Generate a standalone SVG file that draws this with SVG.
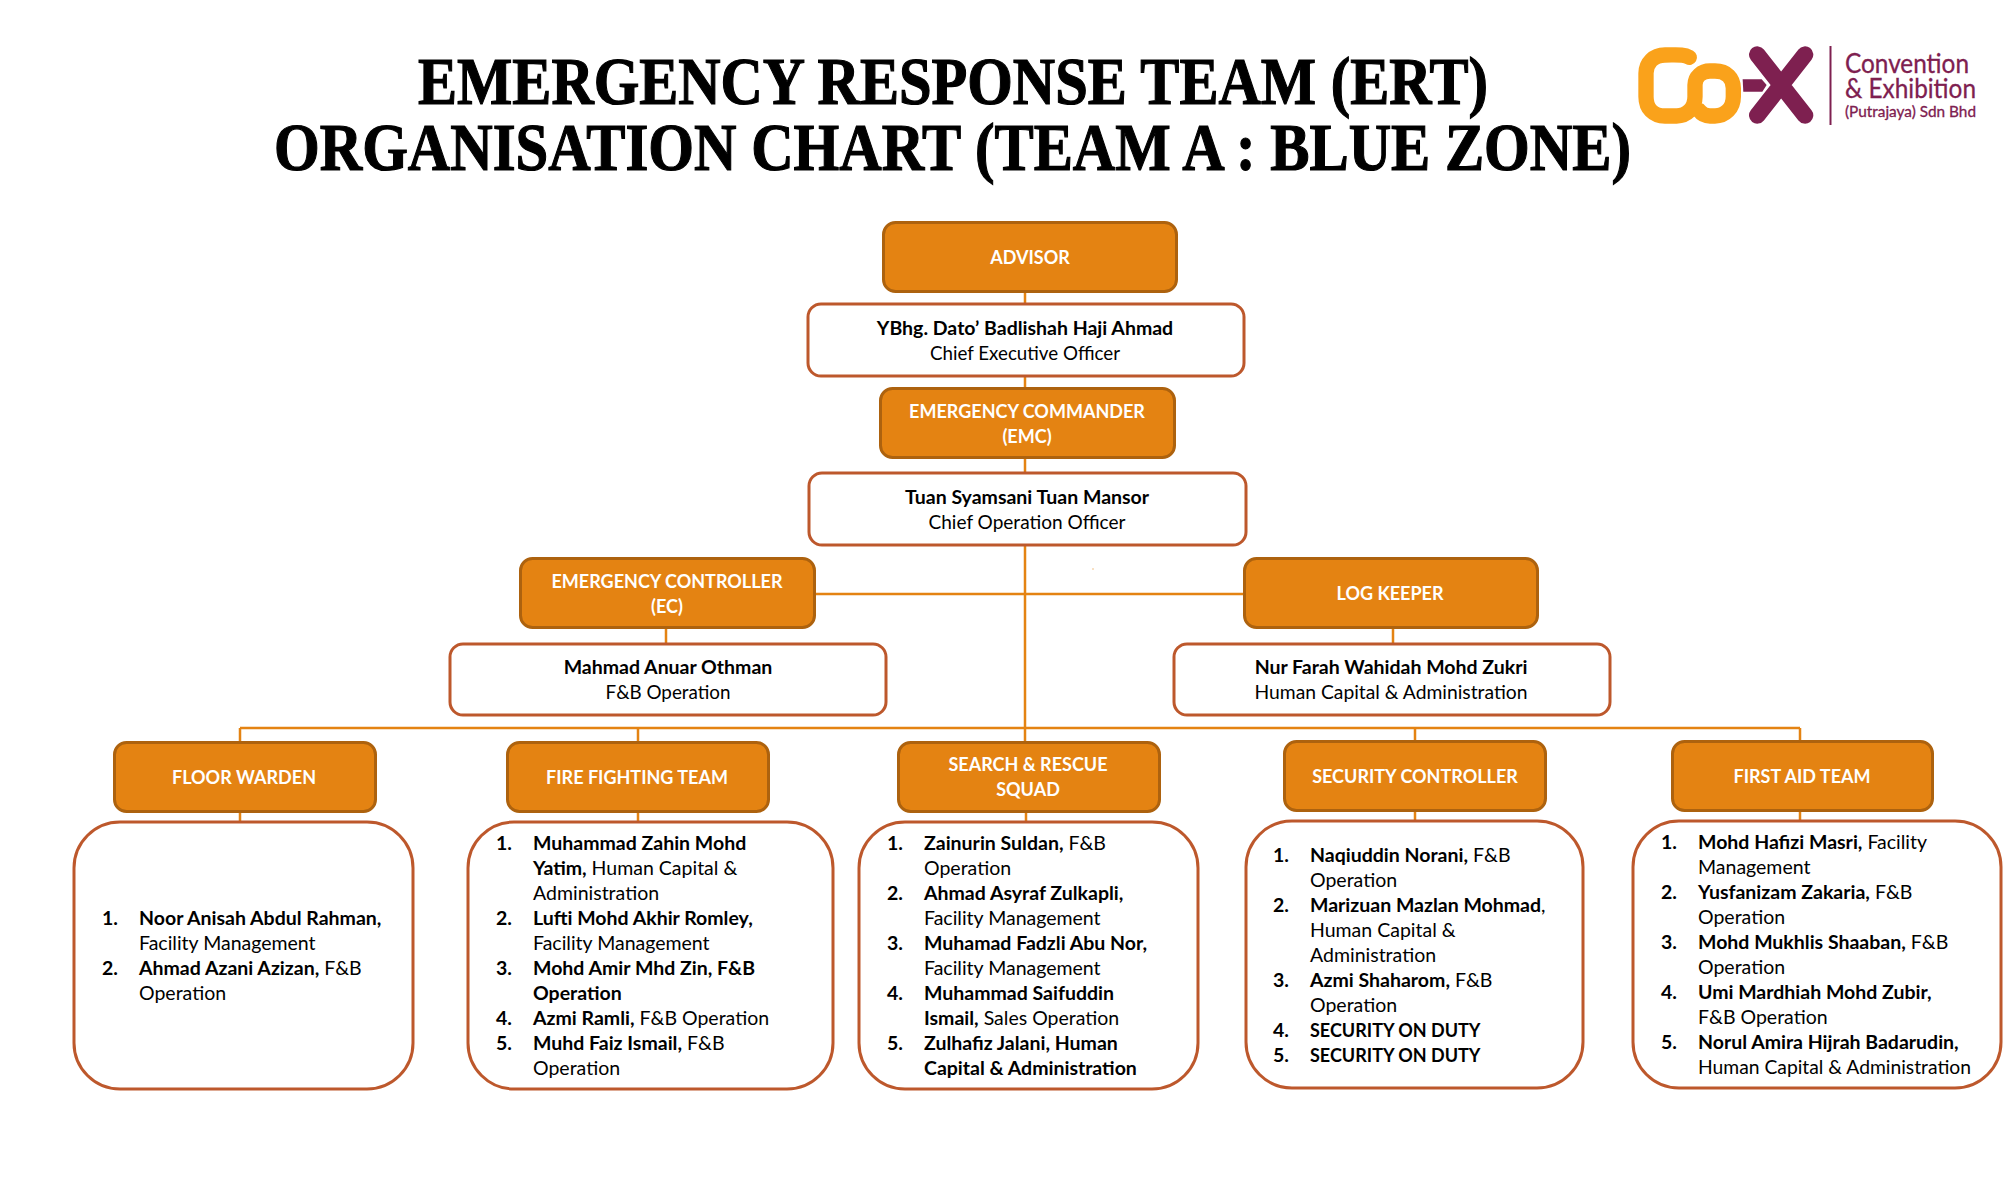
<svg xmlns="http://www.w3.org/2000/svg" width="2003" height="1192" viewBox="0 0 2003 1192">
<style>
text{font-family:"Lato","Open Sans","Liberation Sans",sans-serif;font-size:19.5px;fill:#000}
.b,tspan.b{font-weight:700}
.c{text-anchor:middle}
.u{font-size:18px}
.h{fill:#fff;font-weight:700;text-anchor:middle;font-size:18px}
.t{font-family:"Liberation Serif",serif;font-size:68px;font-weight:700;fill:#000;stroke:#000;stroke-width:1.2}
.n{fill:#E48312;stroke:#AD620E;stroke-width:3}
.p{fill:#fff;stroke:#BD582C;stroke-width:3}
.l{fill:none;stroke:#E48312;stroke-width:2.5}
.m{fill:#7E2050;font-size:26px;stroke:#7E2050;stroke-width:.3}
</style>
<rect width="2003" height="1192" fill="#fff"/>
<g id="title">
<text class="t" x="418" y="104" textLength="1070" lengthAdjust="spacingAndGlyphs">EMERGENCY RESPONSE TEAM (ERT)</text>
<text class="t" x="274" y="170" textLength="1357" lengthAdjust="spacingAndGlyphs">ORGANISATION CHART (TEAM A : BLUE ZONE)</text>
</g>
<g id="logo">
<g transform="translate(1630 40) scale(.3333)">
<path d="M178 52C160 42 140 45 105 45C70 45 48 70 48 100V170C48 205 70 228 105 228H140C170 228 195 205 195 170V135C195 110 215 93 240 93H255C290 93 310 115 310 145V170C310 205 285 228 255 228H240C225 228 215 222 208 212" fill="none" stroke="#FAA21B" stroke-width="46" stroke-linecap="round"/>
<path d="M338 118H395L410 135L397 155H340Z" fill="#7E2050"/>
<path d="M382 44L525 226M525 44L382 226" fill="none" stroke="#7E2050" stroke-width="50" stroke-linecap="round"/>
</g>
<path d="M1830.5 46V125" stroke="#7E2050" stroke-width="2"/>
<text class="m" x="1845" y="73" textLength="124" lengthAdjust="spacingAndGlyphs">Convention</text>
<text class="m" x="1845" y="98" textLength="131" lengthAdjust="spacingAndGlyphs">&amp; Exhibition</text>
<text class="m" x="1845" y="117" style="font-size:15px" textLength="131" lengthAdjust="spacingAndGlyphs">(Putrajaya) Sdn Bhd</text>
</g>
<g id="connectors">
<path class="l" d="M1025 292V742M815 594H1243M240 728H1800M240 728V742M638 728V742M1415 728V742M1800 728V742M666 628V643M1393 628V643M240 812V822M638 812V822M1026 812V822M1415 812V822M1800 812V822"/>
<rect x="1092.5" y="568.5" width="1" height="1" fill="#E48312"/>
</g>
<g id="advisor"><rect class="n" x="883.5" y="222.5" width="293" height="69" rx="12"/><text class="h" x="1030" y="264">ADVISOR</text></g>
<g id="advisor-person"><rect class="p" x="808" y="304" width="436" height="72" rx="13"/><text class="c b" x="1025" y="335">YBhg. Dato’ Badlishah Haji Ahmad</text><text class="c" x="1025" y="360" textLength="190" lengthAdjust="spacingAndGlyphs">Chief Executive Officer</text></g>
<g id="emc"><rect class="n" x="880.5" y="388.5" width="294" height="69" rx="12"/><text class="h" x="1027" y="418">EMERGENCY COMMANDER</text><text class="h" x="1027" y="443">(EMC)</text></g>
<g id="emc-person"><rect class="p" x="809" y="473" width="437" height="72" rx="13"/><text class="c b" x="1027" y="504">Tuan Syamsani Tuan Mansor</text><text class="c" x="1027" y="529" textLength="197" lengthAdjust="spacingAndGlyphs">Chief Operation Officer</text></g>
<g id="ec"><rect class="n" x="520.5" y="558.5" width="294" height="69" rx="12"/><text class="h" x="667" y="588">EMERGENCY CONTROLLER</text><text class="h" x="667" y="613">(EC)</text></g>
<g id="ec-person"><rect class="p" x="450" y="644" width="436" height="71" rx="13"/><text class="c b" x="668" y="674">Mahmad Anuar Othman</text><text class="c" x="668" y="699" textLength="125" lengthAdjust="spacingAndGlyphs">F&amp;B Operation</text></g>
<g id="log-keeper"><rect class="n" x="1244.5" y="558.5" width="293" height="69" rx="12"/><text class="h" x="1390" y="600">LOG KEEPER</text></g>
<g id="log-person"><rect class="p" x="1174" y="644" width="436" height="71" rx="13"/><text class="c b" x="1391" y="674">Nur Farah Wahidah Mohd Zukri</text><text class="c" x="1391" y="699" textLength="273" lengthAdjust="spacingAndGlyphs">Human Capital &amp; Administration</text></g>
<g id="floor-warden"><rect class="n" x="114.5" y="742.5" width="261" height="69" rx="12"/><text class="h" x="244" y="784">FLOOR WARDEN</text>
<rect class="p" x="74" y="822" width="339" height="267" rx="46"/>
<text class="b" x="102" y="925">1.</text><text x="139" y="925"><tspan class="b">Noor Anisah Abdul Rahman,</tspan></text>
<text x="139" y="950">Facility Management</text>
<text class="b" x="102" y="975">2.</text><text x="139" y="975"><tspan class="b">Ahmad Azani Azizan,</tspan> F&amp;B</text>
<text x="139" y="1000">Operation</text></g>
<g id="fire-fighting"><rect class="n" x="507.5" y="742.5" width="261" height="69" rx="12"/><text class="h" x="637" y="784">FIRE FIGHTING TEAM</text>
<rect class="p" x="468" y="822" width="365" height="267" rx="46"/>
<text class="b" x="496" y="850">1.</text><text class="b" x="533" y="850">Muhammad Zahin Mohd</text>
<text x="533" y="875"><tspan class="b">Yatim,</tspan> Human Capital &amp;</text>
<text x="533" y="900">Administration</text>
<text class="b" x="496" y="925">2.</text><text class="b" x="533" y="925">Lufti Mohd Akhir Romley,</text>
<text x="533" y="950">Facility Management</text>
<text class="b" x="496" y="975">3.</text><text class="b" x="533" y="975">Mohd Amir Mhd Zin, F&amp;B</text>
<text class="b" x="533" y="1000">Operation</text>
<text class="b" x="496" y="1025">4.</text><text x="533" y="1025"><tspan class="b">Azmi Ramli,</tspan> F&amp;B Operation</text>
<text class="b" x="496" y="1050">5.</text><text x="533" y="1050"><tspan class="b">Muhd Faiz Ismail,</tspan> F&amp;B</text>
<text x="533" y="1075">Operation</text></g>
<g id="search-rescue"><rect class="n" x="898.5" y="742.5" width="261" height="69" rx="12"/><text class="h" x="1028" y="771">SEARCH &amp; RESCUE</text><text class="h" x="1028" y="796">SQUAD</text>
<rect class="p" x="859" y="822" width="339" height="267" rx="46"/>
<text class="b" x="887" y="850">1.</text><text x="924" y="850"><tspan class="b">Zainurin Suldan,</tspan> F&amp;B</text>
<text x="924" y="875">Operation</text>
<text class="b" x="887" y="900">2.</text><text class="b" x="924" y="900">Ahmad Asyraf Zulkapli,</text>
<text x="924" y="925">Facility Management</text>
<text class="b" x="887" y="950">3.</text><text class="b" x="924" y="950">Muhamad Fadzli Abu Nor,</text>
<text x="924" y="975">Facility Management</text>
<text class="b" x="887" y="1000">4.</text><text class="b" x="924" y="1000">Muhammad Saifuddin</text>
<text x="924" y="1025"><tspan class="b">Ismail,</tspan> Sales Operation</text>
<text class="b" x="887" y="1050">5.</text><text class="b" x="924" y="1050">Zulhafiz Jalani, Human</text>
<text class="b" x="924" y="1075">Capital &amp; Administration</text></g>
<g id="security-controller"><rect class="n" x="1284.5" y="741.5" width="261" height="69" rx="12"/><text class="h" x="1415" y="783">SECURITY CONTROLLER</text>
<rect class="p" x="1246" y="821" width="337" height="267" rx="46"/>
<text class="b" x="1273" y="862">1.</text><text x="1310" y="862"><tspan class="b">Naqiuddin Norani,</tspan> F&amp;B</text>
<text x="1310" y="887">Operation</text>
<text class="b" x="1273" y="912">2.</text><text x="1310" y="912"><tspan class="b">Marizuan Mazlan Mohmad</tspan>,</text>
<text x="1310" y="937">Human Capital &amp;</text>
<text x="1310" y="962">Administration</text>
<text class="b" x="1273" y="987">3.</text><text x="1310" y="987"><tspan class="b">Azmi Shaharom,</tspan> F&amp;B</text>
<text x="1310" y="1012">Operation</text>
<text class="b" x="1273" y="1037">4.</text><text class="b u" x="1310" y="1037">SECURITY ON DUTY</text>
<text class="b" x="1273" y="1062">5.</text><text class="b u" x="1310" y="1062">SECURITY ON DUTY</text></g>
<g id="first-aid"><rect class="n" x="1672.5" y="741.5" width="260" height="69" rx="12"/><text class="h" x="1802" y="783">FIRST AID TEAM</text>
<rect class="p" x="1633" y="821" width="368" height="267" rx="46"/>
<text class="b" x="1661" y="849">1.</text><text x="1698" y="849"><tspan class="b">Mohd Hafizi Masri,</tspan> Facility</text>
<text x="1698" y="874">Management</text>
<text class="b" x="1661" y="899">2.</text><text x="1698" y="899"><tspan class="b">Yusfanizam Zakaria,</tspan> F&amp;B</text>
<text x="1698" y="924">Operation</text>
<text class="b" x="1661" y="949">3.</text><text x="1698" y="949"><tspan class="b">Mohd Mukhlis Shaaban,</tspan> F&amp;B</text>
<text x="1698" y="974">Operation</text>
<text class="b" x="1661" y="999">4.</text><text class="b" x="1698" y="999">Umi Mardhiah Mohd Zubir,</text>
<text x="1698" y="1024">F&amp;B Operation</text>
<text class="b" x="1661" y="1049">5.</text><text class="b" x="1698" y="1049">Norul Amira Hijrah Badarudin,</text>
<text x="1698" y="1074" textLength="273" lengthAdjust="spacingAndGlyphs">Human Capital &amp; Administration</text></g>
</svg>
